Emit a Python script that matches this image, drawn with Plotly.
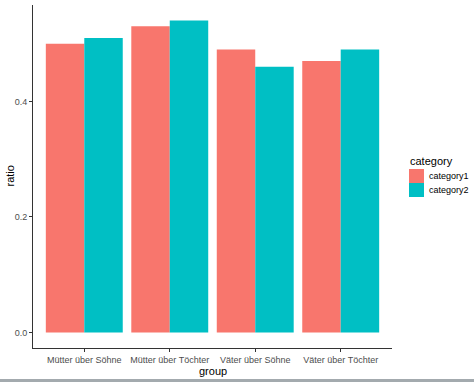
import plotly.graph_objects as go

# ---- data ----
groups = ["Mütter über Söhne", "Mütter über Töchter", "Väter über Söhne", "Väter über Töchter"]
series_names = ["category1", "category2"]
category1 = [0.50, 0.53, 0.49, 0.47]
category2 = [0.51, 0.54, 0.46, 0.49]
y_ticks = [0.0, 0.2, 0.4]
y_tick_labels = ["0.0", "0.2", "0.4"]
colors = ["#F8766D", "#00BFC4"]

W, H = 474, 382
ML, MR, MT, MB = 33, 82, 5, 34
PW, PH = W - ML - MR, H - MT - MB

def px_x(x):
    return (x - ML) / PW

def px_y(y):
    return (H - MB - y) / PH

FONT = "Liberation Sans, Arial, sans-serif"

fig = go.Figure()
for name, vals, col in zip(series_names, [category1, category2], colors):
    fig.add_trace(go.Bar(x=groups, y=vals, name=name, marker=dict(color=col, line=dict(width=0)),
                         showlegend=False))

ymax = max(category1 + category2)
pad = ymax * 0.05

fig.update_layout(
    width=W, height=H,
    margin=dict(l=ML, r=MR, t=MT, b=MB),
    paper_bgcolor="white", plot_bgcolor="white",
    barmode="group", bargap=0.1, bargroupgap=0,
    font=dict(family=FONT, color="#000000"),
    xaxis=dict(type="category", range=[-0.6, len(groups) - 0.4], showgrid=False, zeroline=False,
               showline=True, linecolor="#333333", linewidth=1,
               ticks="outside", ticklen=3, tickcolor="#333333", tickwidth=1,
               tickfont=dict(size=9, color="#4D4D4D", family=FONT)),
    yaxis=dict(range=[-pad, ymax + pad], showgrid=False, zeroline=False,
               showline=True, linecolor="#333333", linewidth=1,
               ticks="outside", ticklen=3, tickcolor="#333333", tickwidth=1,
               tickvals=y_ticks, ticktext=y_tick_labels,
               tickfont=dict(size=9, color="#4D4D4D", family=FONT)),
)

annots = [
    dict(text="group", x=px_x(212.5), y=px_y(371), xanchor="center", yanchor="middle", font=dict(size=11)),
    dict(text="ratio", x=px_x(9), y=px_y(176.5), xanchor="center", yanchor="middle", textangle=-90, font=dict(size=11)),
    dict(text="category", x=px_x(408), y=px_y(161), xanchor="left", yanchor="middle", font=dict(size=11)),
]
shapes = []
for i, (name, col) in enumerate(zip(series_names, colors)):
    y0 = 169 + 14 * i
    shapes.append(dict(type="rect", xref="paper", yref="paper", x0=px_x(409), x1=px_x(424),
                       y0=px_y(y0), y1=px_y(y0 + 14), fillcolor=col, line=dict(width=0)))
    annots.append(dict(text=name, x=px_x(427), y=px_y(y0 + 7), xanchor="left", yanchor="middle",
                       font=dict(size=9)))
# grey strip at the bottom of the screenshot
shapes.append(dict(type="rect", xref="paper", yref="paper", x0=px_x(-5), x1=px_x(W + 5),
                   y0=px_y(H + 5), y1=px_y(379), fillcolor="#A3AAAE", line=dict(width=0), layer="above"))
for a in annots:
    a.update(xref="paper", yref="paper", showarrow=False)
fig.update_layout(annotations=annots, shapes=shapes)

fig.write_html("out.html", config={"displayModeBar": False},
               post_script="document.body.style.margin='0';document.body.style.overflow='hidden';")
